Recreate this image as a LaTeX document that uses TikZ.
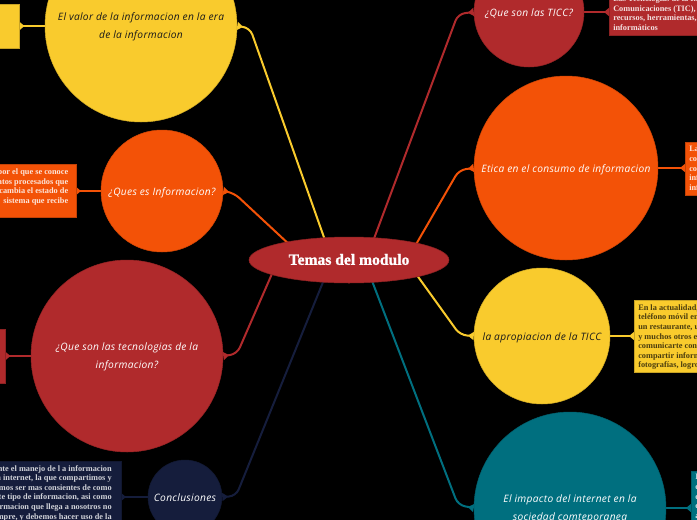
\documentclass[tikz,border=0pt]{standalone}
\usepackage{fontspec}
\setmainfont{Liberation Serif}
\newfontfamily\handf[LetterSpace=3]{Open Sans}
\newfontfamily\titlef[BoldFeatures={FakeBold=1.2}]{Liberation Serif}
\usetikzlibrary{shapes.geometric,arrows.meta}
\definecolor{cyel}{HTML}{F9CB2D}
\definecolor{cora}{HTML}{F35207}
\definecolor{cred}{HTML}{B02A2C}
\definecolor{cnav}{HTML}{151D3C}
\definecolor{ctea}{HTML}{006F7F}
\pgfdeclarelayer{back}
\pgfsetlayers{back,main}
\newcommand\liftc[2]{\raisebox{#1}[0pt][0pt]{\begin{tabular}{@{}c@{}}#2\end{tabular}}}
\newcommand\liftl[2]{\raisebox{#1}[0pt][0pt]{\hspace{4pt}\begin{tabular}{@{}l@{}}#2\end{tabular}\hspace{4pt}}}
\newcommand\liftr[2]{\raisebox{#1}[0pt][0pt]{\begin{tabular}{@{}r@{}}#2\end{tabular}}}
\tikzset{
  x=1pt,y=-1pt,
  topic/.style={circle,fill=#1,draw=#1!85!black,line width=.5pt,inner sep=0pt,text=white,
    font=\handf\itshape\fontsize{10.2}{18.5}\selectfont},
  darktopic/.style={topic=#1,text=black!90},
  infobox/.style={rectangle,fill=#1,draw=#1!80!black,line width=.5pt,inner sep=0pt,anchor=north west,
    text=white!85!#1,font=\bfseries\fontsize{8.3}{9.6}\selectfont},
  conn/.style={draw=#1,line width=2pt,rounded corners=7pt,-{Triangle[reversed,length=6pt,width=8pt,fill=#1]}},
  link/.style={draw=#1,line width=2pt,-{Triangle[reversed,length=5pt,width=8pt,fill=#1]}},
}
\begin{document}
\begin{tikzpicture}
\useasboundingbox (0,0) rectangle (697,520);
% central topic
\node[ellipse,fill=cred,draw=cred!80!black,line width=.5pt,minimum width=200pt,minimum height=46pt,inner sep=0pt,
  text=white,font=\titlef\bfseries\fontsize{15.6}{17}\selectfont] (hub) at (349,260) {\liftc{-5pt}{Temas del modulo}};
% topics
\node[darktopic=cyel,minimum size=192pt] (valor) at (141,26) {\liftc{-2.5pt}{El valor de la informacion en la era\\de la informacion}};
\node[topic=cora,minimum size=122pt] (ques) at (162,191) {\liftc{-3.5pt}{¿Ques es Informacion?}};
\node[topic=cred,minimum size=192pt] (tecno) at (127,356) {\liftc{-2.5pt}{¿Que son las tecnologias de la\\informacion?}};
\node[topic=cnav,minimum size=74pt] (concl) at (185,497) {\liftc{-3.5pt}{Conclusiones}};
\node[topic=cred,minimum size=110pt] (ticc) at (529,12) {\liftc{-3.5pt}{¿Que son las TICC?}};
\node[topic=cora,minimum size=184pt] (etica) at (566,168) {\liftc{-3.5pt}{Etica en el consumo de informacion}};
\node[darktopic=cyel,minimum size=136pt] (apro) at (542,336) {\liftc{-3.5pt}{la apropiacion de la TICC}};
\node[topic=ctea,minimum size=192pt] (impacto) at (570,508) {\liftc{-2.5pt}{El impacto del internet en la\\sociedad comteporanea}};
% detail boxes
\node[infobox=cyel,minimum width=60pt,minimum height=44pt] (bvalor) at (-41,4) {};
\node[infobox=cora,minimum width=90pt,minimum height=53pt,anchor=north east] (bques) at (76,164) {\hspace*{\fill}\liftr{1.5pt}{por el que se conoce\hspace{16pt}\\datos procesados que\hspace{8pt}\\cambia el estado de\hspace{10pt}\\sistema que recibe\hspace{23pt}}};
\node[infobox=cred,minimum width=60pt,minimum height=54pt] (btecno) at (-55,329) {};
\node[infobox=cnav,minimum width=170pt,minimum height=75pt,text=white!80!cnav,anchor=north east] (bconcl) at (121,461) {\hspace*{\fill}\liftr{3.5pt}{Finalmente el manejo de l a informacion\hspace{9pt}\\que hay en internet, la que compartimos y\hspace{6pt}\\que debemos ser mas consientes de como\hspace{11pt}\\manejar este tipo de informacion, asi como\hspace{8pt}\\la informacion que llega a nosotros no\hspace{14pt}\\es siempre, y debemos hacer uso de la\hspace{24pt}}};
\node[infobox=cred,minimum height=44pt,anchor=south west] (bticc) at (609,35) {\liftl{-3.5pt}{Las Tecnologías de la Información\\Comunicaciones (TIC), son el\\recursos, herramientas, equipos\\informáticos}};
\node[infobox=cora,minimum height=53pt] (betica) at (685,142) {\liftl{-2.5pt}{La ética\\con\\con\\inf\\inf}};
\node[infobox=cyel,minimum height=72pt,text=black!70!cyel] (bapro) at (634,300) {\liftl{-3pt}{En la actualidad, el\\teléfono móvil en\\un restaurante, un\\y muchos otros en\\comunicarte con\\compartir información\\fotografías, logros}};
\node[infobox=ctea,minimum height=60pt] (bimp) at (691,471) {\liftl{2pt}{I\\e\\e\\e\\a}};
% background and connectors
\begin{pgfonlayer}{back}
\fill[black] (0,0) rectangle (697,520);
\draw[conn=cyel] ([xshift=-17pt]hub.center) -- (250,28) -- (valor.east);
\draw[conn=cora] ([xshift=-43pt]hub.center) -- (234,193) -- (ques.east);
\draw[conn=cred] ([xshift=-71pt]hub.center) -- (237,354) -- (tecno.east);
\draw[conn=cnav] ([xshift=-17pt]hub.center) -- (236,496) -- (concl.east);
\draw[conn=cred] ([xshift=17pt]hub.center) -- (458,14) -- (ticc.west);
\draw[conn=cora] ([xshift=58pt]hub.center) -- (459,170) -- (etica.west);
\draw[conn=cyel] ([xshift=57pt]hub.center) -- (460,335) -- (apro.west);
\draw[conn=ctea] ([xshift=15pt]hub.center) -- (458,505) -- (impacto.west);
\draw[link=cyel] (valor.west) -- (valor.west -| bvalor.east);
\draw[link=cora] (ques.west) -- (ques.west -| bques.east);
\draw[link=cred] (tecno.west) -- (tecno.west -| btecno.east);
\draw[link=cnav] (concl.west) -- (concl.west -| bconcl.east);
\draw[link=cred] (ticc.east) -- (ticc.east -| bticc.west);
\draw[link=cora] (etica.east) -- (etica.east -| betica.west);
\draw[link=cyel] (apro.east) -- (apro.east -| bapro.west);
\draw[link=ctea] (impacto.east) -- (impacto.east -| bimp.west);
\end{pgfonlayer}
\end{tikzpicture}
\end{document}
